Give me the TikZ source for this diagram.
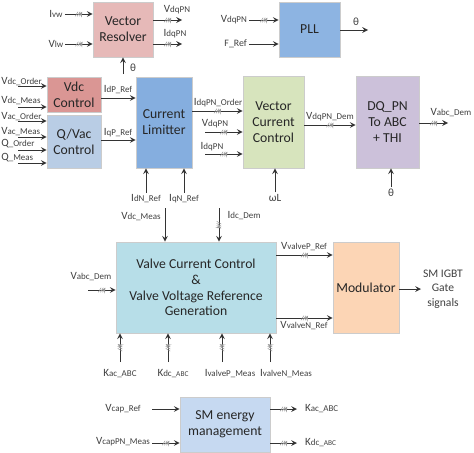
\documentclass[tikz,border=0pt]{standalone}
\usepackage{fontspec}
\setmainfont{Carlito}
\usetikzlibrary{decorations.markings,calc}
\definecolor{resC}{HTML}{E6B9B8}
\definecolor{pllC}{HTML}{8DB4E2}
\definecolor{vdcC}{HTML}{DA9694}
\definecolor{qvacC}{HTML}{B9CDE5}
\definecolor{limC}{HTML}{85AEDF}
\definecolor{vccC}{HTML}{D7E4BD}
\definecolor{dqC}{HTML}{CCC1DA}
\definecolor{valveC}{HTML}{B7DEE8}
\definecolor{modC}{HTML}{FCD5B5}
\definecolor{smeC}{HTML}{C6D9F1}
\newcommand\sig[2]{{\fontsize{6.3}{7}\selectfont #1}{\fontsize{5.1}{6}\selectfont #2}}

\begin{document}
\begin{tikzpicture}[x=0.02cm, y=-0.02cm, >=stealth,
		blk/.style={draw=black!20, text=black!85, align=center, inner sep=0pt, font=\fontsize{7.8}{9}\selectfont},
		lbl/.style={inner sep=1pt, text=black!75, font=\fontsize{6.3}{7}\selectfont},
		sigline/.style={->, black!80, line width=0.45pt},
		bus/.style={postaction={decorate}, decoration={markings, mark=at position 0.5 with {\draw[black!40, line width=0.3pt] (-2pt,-1.3pt) -- (-0.4pt,1.3pt) (-0.8pt,-1.3pt) -- (0.8pt,1.3pt) (0.4pt,-1.3pt) -- (2pt,1.3pt);}}}]
		\useasboundingbox (0,0) rectangle (474,453);
		% blocks
		\node[blk, fill=resC, minimum width=1.2cm, minimum height=1.1cm] (res) at (123,29.5) {Vector\\Resolver};
		\node[blk, fill=pllC, minimum width=1.22cm, minimum height=1.1cm] (pll) at (309.5,29.5) {PLL};
		\node[blk, fill=vdcC, minimum width=1.08cm, minimum height=0.7cm] (vdc) at (74,94.5) {Vdc\\Control};
		\node[blk, fill=qvacC, minimum width=1.08cm, minimum height=1.06cm] (qvac) at (74,141.5) {Q/Vac\\Control};
		\node[blk, fill=limC, minimum width=1.12cm, minimum height=1.82cm] (lim) at (164,122.5) {Current\\Limitter};
		\node[blk, fill=vccC, minimum width=1.22cm, minimum height=1.84cm] (vcc) at (273.5,122) {Vector\\Current\\Control};
		\node[blk, fill=dqC, minimum width=1.26cm, minimum height=1.84cm] (dq) at (387.5,122) {DQ\_PN\\To ABC\\+ THI};
		\node[blk, fill=valveC, minimum width=3.2cm, minimum height=1.82cm] (valve) at (196,287.5) {Valve Current Control\\\&\\Valve Voltage Reference\\Generation};
		\node[blk, fill=modC, minimum width=1.32cm, minimum height=1.82cm] (mod) at (366,287.5) {Modulator};
		\node[blk, fill=smeC, minimum width=1.8cm, minimum height=1.1cm] (sme) at (225,424.5) {SM energy\\management};
		% vector resolver
		\node[lbl] (ivw) at (56,14) {\sig{I}{vw}};
		\node[lbl] (vlw) at (56,44) {\sig{V}{lw}};
		\draw[sigline, bus] (ivw.east) -- (ivw.east -| res.west);
		\draw[sigline, bus] (vlw.east) -- (vlw.east -| res.west);
		\coordinate (rV) at (182,20);
		\coordinate (rI) at (182,44);
		\draw[sigline, bus] (rV -| res.east) -- (rV);
		\draw[sigline, bus] (rI -| res.east) -- (rI);
		\node[lbl] (rVl) at (177,10) {\sig{V}{dqPN}};
		\node[lbl] (rIl) at (175,34) {\sig{I}{dqPN}};
		\coordinate (thR) at (123,74);
		\draw[sigline] (thR) -- (res.south);
		\node[lbl] (thRl) at (133,68) {θ};
		% pll
		\node[lbl, anchor=east] (pV) at (249,20) {\sig{V}{dqPN}};
		\node[lbl, anchor=east] (pF) at (249,44) {\fontsize{5.6}{7}\selectfont F\_Ref};
		\draw[sigline, bus] (pV.east) -- (pV.east -| pll.west);
		\draw[sigline] (pF.east) -- (pF.east -| pll.west);
		\coordinate (pT) at (368,30);
		\draw[sigline] (pT -| pll.east) -- (pT);
		\node[lbl] (pTl) at (356,22) {θ};
		% vdc and q/vac inputs
		\foreach \y/\n/\t in {82/a/\sig{V}{dc\_Order}, 101/b/\sig{V}{dc\_Meas}, 117/c/\sig{V}{ac\_Order}, 132/d/\sig{V}{ac\_Meas}, 144/e/\sig{Q}{\_Order}, 158/f/\sig{Q}{\_Meas}}
			\node[lbl, anchor=west, inner sep=0pt] (in\n) at (1,\y) {\t};
		\foreach \y/\n in {86/a, 107/b} {
			\coordinate (s\n) at (18,\y);
			\draw[sigline] (s\n) -- (s\n -| vdc.west);
		}
		\foreach \y/\n in {121/c, 137/d, 150/e, 163/f} {
			\coordinate (s\n) at (18,\y);
			\draw[sigline] (s\n) -- (s\n -| qvac.west);
		}
		% current limiter
		\coordinate (dP) at (0,98);
		\coordinate (qP) at (0,140);
		\draw[sigline] (dP -| vdc.east) -- (dP -| lim.west);
		\draw[sigline] (qP -| qvac.east) -- (qP -| lim.west);
		\node[lbl] (dPl) at (118,90) {\sig{I}{dP\_Ref}};
		\node[lbl] (qPl) at (118,133) {\sig{I}{qP\_Ref}};
		\node[lbl] (dN) at (146,199) {\sig{I}{dN\_Ref}};
		\node[lbl] (qN) at (184,199) {\sig{I}{qN\_Ref}};
		\draw[sigline] (dN.north) -- (dN.north |- lim.south);
		\draw[sigline] (qN.north) -- (qN.north |- lim.south);
		% vector current control
		\coordinate (lo) at (0,111);
		\draw[sigline, bus] (lo -| lim.east) -- (lo -| vcc.west);
		\node[lbl] (lol) at (218,103) {\sig{I}{dqPN\_Order}};
		\coordinate (cV) at (205,132);
		\coordinate (cI) at (205,154);
		\draw[sigline, bus] (cV) -- (cV -| vcc.west);
		\draw[sigline, bus] (cI) -- (cI -| vcc.west);
		\node[lbl] (cVl) at (215,124) {\sig{V}{dqPN}};
		\node[lbl] (cIl) at (212,147) {\sig{I}{dqPN}};
		\node[lbl] (wL) at (275,198) {ωL};
		\draw[sigline] (wL.north) -- (wL.north |- vcc.south);
		% dq to abc
		\coordinate (vd) at (0,125);
		\draw[sigline, bus] (vd -| vcc.east) -- (vd -| dq.west);
		\node[lbl] (vdl) at (330,117) {\sig{V}{dqPN\_Dem}};
		\coordinate (va) at (448,123);
		\draw[sigline, bus] (va -| dq.east) -- (va);
		\node[lbl] (val) at (451,113) {\sig{V}{abc\_Dem}};
		\node[lbl] (thD) at (391,193) {θ};
		\draw[sigline] (thD.north) -- (thD.north |- dq.south);
		% valve control
		\coordinate (vm) at (165,208);
		\coordinate (id) at (219,208);
		\draw[sigline] (vm) -- (vm |- valve.north);
		\draw[sigline, bus] (id) -- (id |- valve.north);
		\node[lbl] (vml) at (141,217) {\sig{V}{dc\_Meas}};
		\node[lbl] (idl) at (244,216) {\sig{I}{dc\_Dem}};
		\coordinate (vin) at (88,290);
		\draw[sigline, bus] (vin) -- (vin -| valve.west);
		\node[lbl] (vinl) at (91,277) {\sig{V}{abc\_Dem}};
		\foreach \x/\n in {120/kA, 168/kB, 222/iP, 270/iN} {
			\coordinate (\n) at (\x,362);
			\draw[sigline, bus] (\n) -- (\n |- valve.south);
		}
		\node[lbl] (kAl) at (120,374) {\sig{K}{ac\_ABC}};
		\node[lbl] (kBl) at (173,374) {\sig{K}{dc\_}{\fontsize{4.2}{5}\selectfont ABC}};
		\node[lbl] (iPl) at (230,374) {\sig{I}{valveP\_Meas}};
		\node[lbl] (iNl) at (286,374) {\sig{I}{valveN\_Meas}};
		% modulator
		\coordinate (mP) at (0,255);
		\coordinate (mN) at (0,318);
		\draw[sigline, bus] (mP -| valve.east) -- (mP -| mod.west);
		\draw[sigline, bus] (mN -| valve.east) -- (mN -| mod.west);
		\node[lbl] (mPl) at (304,247) {\sig{V}{valveP\_Ref}};
		\node[lbl] (mNl) at (304,326) {\sig{V}{valveN\_Ref}};
		\node[lbl, align=center, font=\fontsize{6.6}{8.2}\selectfont, anchor=west] (gate) at (421,289) {SM IGBT\\Gate\\signals};
		\draw[sigline] (gate.west -| mod.east) -- (gate.west);
		% sm energy management
		\coordinate (eR) at (152,409);
		\coordinate (eM) at (152,443);
		\draw[sigline] (eR) -- (eR -| sme.west);
		\draw[sigline, bus] (eM) -- (eM -| sme.west);
		\node[lbl] (eRl) at (123,409) {\sig{V}{cap\_Ref}};
		\node[lbl, anchor=east] (eMl) at (152,442) {\sig{V}{capPN\_Meas}};
		\coordinate (oA) at (297,409);
		\coordinate (oB) at (297,443);
		\draw[sigline, bus] (oA -| sme.east) -- (oA);
		\draw[sigline, bus] (oB -| sme.east) -- (oB);
		\node[lbl, anchor=west] (oAl) at (303,409) {\sig{K}{ac\_ABC}};
		\node[lbl, anchor=west] (oBl) at (303,443) {\sig{K}{dc\_}{\fontsize{4.2}{5}\selectfont ABC}};
	\end{tikzpicture}
\end{document}
